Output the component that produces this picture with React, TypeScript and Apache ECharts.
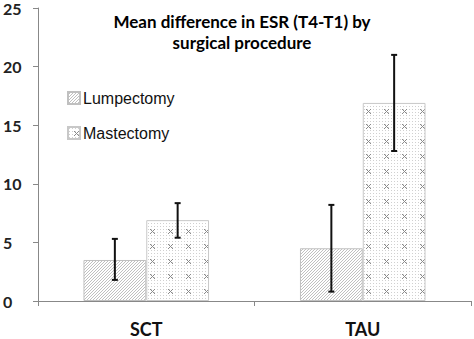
import React, { useEffect, useRef } from "react";
import * as echarts from "echarts";

const categories = ["SCT", "TAU"];
const lumpectomy = [3.5, 4.5];
const mastectomy = [6.9, 16.9];
const lumpLow = [1.8, 0.8];
const lumpHigh = [5.3, 8.2];
const mastLow = [5.4, 12.8];
const mastHigh = [8.35, 21.0];
const yTicks = [0, 5, 10, 15, 20, 25];

function hatchCanvas(): HTMLCanvasElement {
  const c = document.createElement("canvas");
  c.width = 3;
  c.height = 3;
  const ctx = c.getContext("2d")!;
  ctx.fillStyle = "#ffffff";
  ctx.fillRect(0, 0, 3, 3);
  ctx.strokeStyle = "#b0b0b0";
  ctx.lineWidth = 0.8;
  ctx.beginPath();
  ctx.moveTo(0, 3);
  ctx.lineTo(3, 0);
  ctx.moveTo(-1, 1);
  ctx.lineTo(1, -1);
  ctx.moveTo(2, 4);
  ctx.lineTo(4, 2);
  ctx.stroke();
  return c;
}

function dotCanvas(): HTMLCanvasElement {
  const c = document.createElement("canvas");
  const w = 18;
  const h = 15;
  c.width = w;
  c.height = h;
  const ctx = c.getContext("2d")!;
  ctx.fillStyle = "#ffffff";
  ctx.fillRect(0, 0, w, h);
  ctx.fillStyle = "#d0d0d0";
  for (let x = 1; x < w; x += 3) {
    for (let y = 1; y < h; y += 3) {
      ctx.fillRect(x, y, 1, 1);
    }
  }
  ctx.fillStyle = "#8a8a8a";
  const pts = [
    [6, 4], [10, 4], [7, 5], [9, 5], [8, 6], [7, 7], [9, 7], [6, 8], [10, 8],
  ];
  pts.forEach(([x, y]) => ctx.fillRect(x, y, 1, 1));
  return c;
}

export default function App() {
  const ref = useRef<HTMLDivElement>(null);
  useEffect(() => {
    if (!ref.current) return;
    const chart = echarts.init(ref.current, null, { renderer: "svg" });
    const hatch = { image: hatchCanvas(), repeat: "repeat" } as any;
    const dots = { image: dotCanvas(), repeat: "repeat" } as any;
    const barW = 0.29;
    const errSeries = (low: number[], high: number[], sign: number) => ({
      type: "custom",
      silent: true,
      z: 10,
      data: categories.map((_, i) => [i, low[i], high[i]]),
      renderItem: (params: any, api: any) => {
        const band = api.size([1, 0])[0];
        const off = (sign * band * barW) / 2;
        const lo = api.coord([api.value(0), api.value(1)]);
        const hi = api.coord([api.value(0), api.value(2)]);
        const x = lo[0] + off;
        const cap = 3;
        const st = { stroke: "#111", lineWidth: 2 };
        return {
          type: "group",
          children: [
            { type: "line", shape: { x1: x, y1: lo[1], x2: x, y2: hi[1] }, style: st },
            { type: "line", shape: { x1: x - cap, y1: lo[1], x2: x + cap, y2: lo[1] }, style: st },
            { type: "line", shape: { x1: x - cap, y1: hi[1], x2: x + cap, y2: hi[1] }, style: st },
          ],
        };
      },
    });
    chart.setOption({
      animation: false,
      backgroundColor: "#ffffff",
      title: {
        text: "Mean difference in ESR (T4-T1) by\nsurgical procedure",
        left: 242,
        top: 11,
        padding: 0,
        textAlign: "center",
        textStyle: {
          fontFamily: "Lato",
          fontWeight: "bold",
          fontSize: 17,
          lineHeight: 21,
          color: "#000",
        },
      },
      legend: {
        orient: "vertical",
        left: 67,
        top: 90,
        itemWidth: 12,
        itemHeight: 12,
        itemGap: 19,
        padding: 0,
        icon: "rect",
        textStyle: { fontFamily: "Liberation Sans", fontSize: 16, color: "#111", padding: [0, 0, 0, -2] },
        data: ["Lumpectomy", "Mastectomy"],
      },
      grid: { left: 35, right: 3, top: 7.5, bottom: 38, containLabel: false },
      xAxis: {
        type: "category",
        data: categories,
        axisLine: { lineStyle: { color: "#888", width: 1 } },
        axisTick: { show: true, length: 5, lineStyle: { color: "#888" } },
        axisLabel: {
          margin: 19,
          fontFamily: "Lato",
          fontWeight: "bold",
          fontSize: 18,
          lineHeight: 18,
          color: "#111",
        },
      },
      yAxis: {
        type: "value",
        min: yTicks[0],
        max: yTicks[yTicks.length - 1],
        interval: 5,
        splitLine: { show: false },
        axisLine: { show: true, lineStyle: { color: "#888", width: 1 } },
        axisTick: { show: true, length: 5, lineStyle: { color: "#888" } },
        axisLabel: {
          align: "left",
          margin: 35,
          fontFamily: "Lato",
          fontWeight: "bold",
          fontSize: 16,
          color: "#222",
        },
      },
      series: [
        {
          name: "Lumpectomy",
          type: "bar",
          data: lumpectomy,
          barWidth: "29%",
          barGap: "0%",
          itemStyle: { color: hatch, borderColor: "#c0c0c0", borderWidth: 1 },
        },
        {
          name: "Mastectomy",
          type: "bar",
          data: mastectomy,
          barWidth: "29%",
          barGap: "0%",
          itemStyle: { color: dots, borderColor: "#c8c8c8", borderWidth: 1 },
        },
        errSeries(lumpLow, lumpHigh, -1),
        errSeries(mastLow, mastHigh, 1),
      ],
    });
    return () => chart.dispose();
  }, []);
  return <div ref={ref} style={{ width: 474, height: 339, position: "absolute", left: 0, top: 0 }} />;
}
